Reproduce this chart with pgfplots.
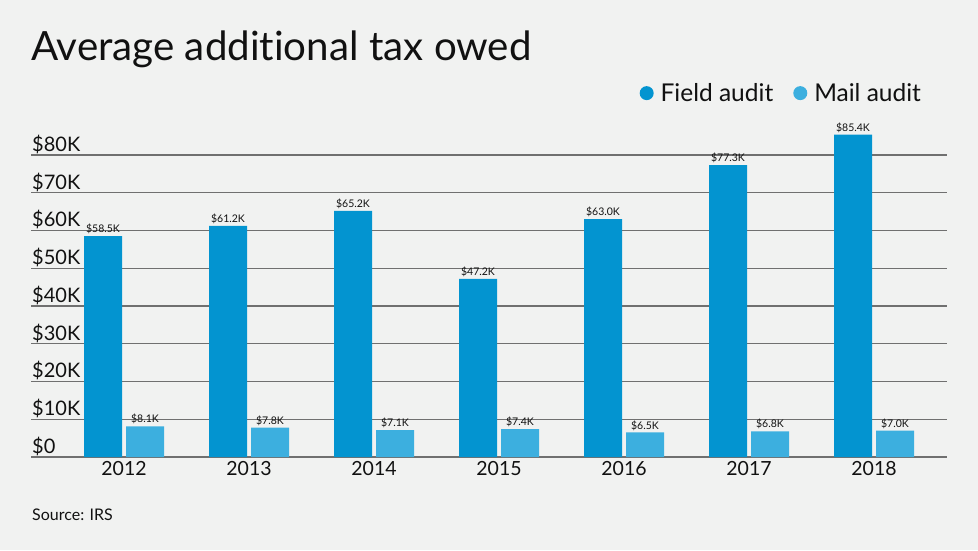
\documentclass[border=0pt]{standalone}
\usepackage{pgfplots}
\pgfplotsset{compat=1.18}
\usepackage{fontspec}
\setmainfont{Lato}[Ligatures=NoCommon]

\definecolor{bgcol}{HTML}{F1F2F1}
\definecolor{fieldcol}{HTML}{0394D0}
\definecolor{mailcol}{HTML}{3CAFDF}
\definecolor{gridcol}{HTML}{707070}
\definecolor{txtcol}{HTML}{111111}

\begin{document}
\begin{tikzpicture}[x=1pt,y=1pt]
\fill[bgcol] (0,0) rectangle (978,550);

\node[anchor=base west, inner sep=0pt, text=txtcol, font=\fontsize{40.3}{44}\selectfont]
  at (31,489) {Average additional tax owed};
\node[anchor=base west, inner sep=0pt, text=txtcol, font=\fontsize{16}{19}\selectfont]
  at (32,30) {Source: IRS};

\begin{axis}[
    at={(31pt,93pt)},
    anchor=south west,
    scale only axis,
    width=916pt,
    height=339.75pt,
    xmin=-0.744, xmax=6.584,
    ymin=0, ymax=90,
    ybar=4pt,
    bar width=38pt,
    axis line style={draw=none},
    major tick length=0pt,
    ytick={0,10,...,80},
    yticklabels={\$0,\$10K,\$20K,\$30K,\$40K,\$50K,\$60K,\$70K,\$80K},
    yticklabel style={anchor=south west, inner sep=1pt, text=txtcol,
        font=\fontsize{20}{22}\selectfont},
    xtick={0,...,6},
    xticklabels={2012,2013,2014,2015,2016,2017,2018},
    xticklabel style={text=txtcol, yshift=-1pt, font=\fontsize{19.5}{22}\selectfont},
    ymajorgrids,
    grid style={gridcol, line width=1.2pt},
    point meta=explicit symbolic,
    nodes near coords,
    every node near coord/.append style={text=txtcol,
        font=\fontsize{10.5}{12}\selectfont, inner sep=2pt},
    legend columns=2,
    legend cell align=left,
    legend image code/.code={\fill[#1] (0pt,0pt) circle (7pt);},
    legend style={draw=none, fill=none, anchor=west,
        at={(0.661,1.071)},
        font=\fontsize{24.5}{27}\selectfont, text=txtcol,
        /tikz/every odd column/.append style={column sep=5pt},
        /tikz/every even column/.append style={column sep=18pt}},
]
\addplot[fill=fieldcol, draw=none] coordinates {
    (0,58.5) [\$58.5K]
    (1,61.2) [\$61.2K]
    (2,65.2) [\$65.2K]
    (3,47.2) [\$47.2K]
    (4,63.0) [\$63.0K]
    (5,77.3) [\$77.3K]
    (6,85.4) [\$85.4K]
};
\addplot[fill=mailcol, draw=none] coordinates {
    (0,8.1) [\$8.1K]
    (1,7.8) [\$7.8K]
    (2,7.1) [\$7.1K]
    (3,7.4) [\$7.4K]
    (4,6.5) [\$6.5K]
    (5,6.8) [\$6.8K]
    (6,7.0) [\$7.0K]
};
\legend{Field audit, Mail audit}
\end{axis}
\end{tikzpicture}
\end{document}
